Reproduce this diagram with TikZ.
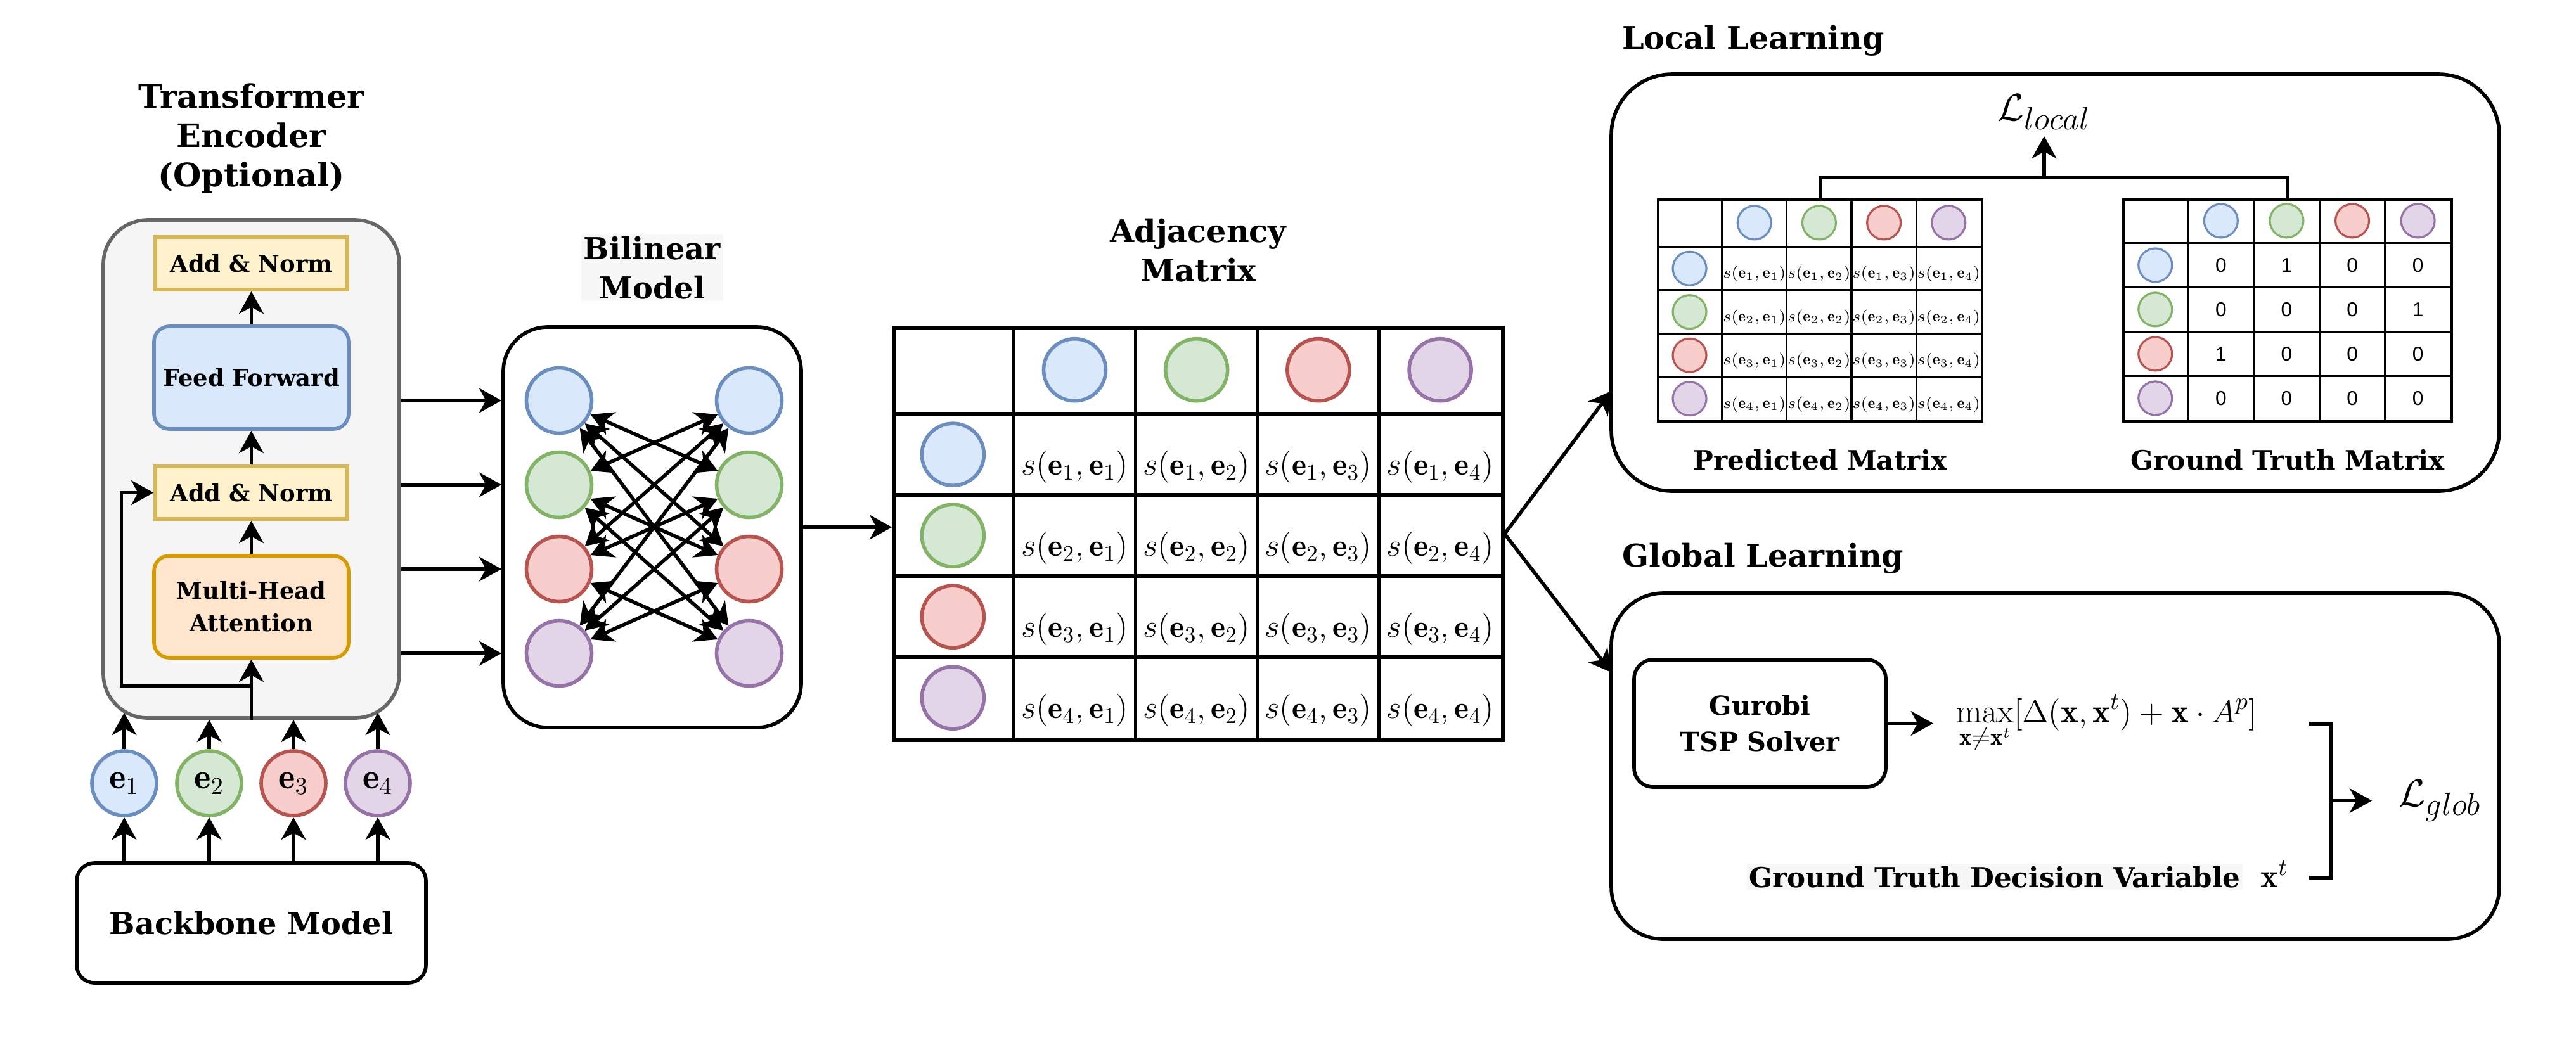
\documentclass[tikz,border=0pt]{standalone}
\usepackage{amsmath,amssymb}
\usepackage{fontspec}
\newfontfamily\digitfont{Liberation Sans}
\newfontfamily\labelfont{DejaVu Serif}
\usetikzlibrary{arrows.meta,calc,positioning}

\definecolor{blueF}{HTML}{DAE8FC}\definecolor{blueD}{HTML}{6C8EBF}
\definecolor{greenF}{HTML}{D5E8D4}\definecolor{greenD}{HTML}{82B366}
\definecolor{redF}{HTML}{F8CECC}\definecolor{redD}{HTML}{B85450}
\definecolor{purpF}{HTML}{E1D5E7}\definecolor{purpD}{HTML}{9673A6}
\definecolor{yelF}{HTML}{FFF2CC}\definecolor{yelD}{HTML}{D6B656}
\definecolor{orgF}{HTML}{FFE6CC}\definecolor{orgD}{HTML}{D79B00}
\definecolor{grayF}{HTML}{F5F5F5}\definecolor{grayD}{HTML}{666666}

\begin{document}
\begin{tikzpicture}[>={Stealth[length=10pt,width=11pt,inset=3pt]}, line width=1.6pt,
    title/.style={font=\labelfont\bfseries\fontsize{#1}{17.6}\selectfont, align=center, inner sep=1pt},
    title/.default=14,
    block/.style={draw, align=center, font=\labelfont\bfseries\fontsize{10.5}{14.5}\selectfont},
    label/.style={font=\labelfont\bfseries\fontsize{#1}{16}\selectfont},
    ball/.style={circle, inner sep=0pt, fill=#1F, draw=#1D},
    sball/.style={circle, inner sep=0pt, line width=0.9pt, minimum size=0.53cm, fill=#1F, draw=#1D},
    thin grid/.style={line width=0.9pt}]
    \useasboundingbox (0,0) rectangle (40.64,-16.56);

    % encoder
    \node (Enc) [draw=grayD, fill=grayF, rounded corners=0.7cm, minimum width=4.67cm, minimum height=7.86cm] at (3.965,-7.40) {};
    \node (EncT) [title=14.5, above=0.33cm of Enc] {Transformer\\Encoder\\(Optional)};
    \node (AN2) [block, draw=yelD, fill=yelF, minimum width=3.03cm, minimum height=0.83cm] at (3.965,-4.155) {Add \& Norm};
    \node (FF) [block, rounded corners=0.24cm, draw=blueD, fill=blueF, minimum width=3.07cm, minimum height=1.62cm] at (3.965,-5.96) {Feed Forward};
    \node (AN1) [block, draw=yelD, fill=yelF, minimum width=3.03cm, minimum height=0.83cm] at (3.965,-7.775) {Add \& Norm};
    \node (MHA) [block, rounded corners=0.24cm, draw=orgD, fill=orgF, minimum width=3.07cm, minimum height=1.61cm] at (3.965,-9.575) {Multi-Head\\Attention};

    \draw[->] (MHA) -- (AN1);
    \draw[->] (AN1) -- (FF);
    \draw[->] (FF) -- (AN2);
    \draw[->] (Enc.south) -- (MHA);
    \coordinate (Res) at (3.965,-10.82);
    \draw[->] (Res) -- ++(-2.05,0) |- (AN1);

    % embeddings and backbone
    \foreach \i/\x/\col in {1/1.96/blue, 2/3.30/green, 3/4.63/red, 4/5.96/purp}
        \node (e\i) [ball=\col, minimum size=1.02cm, font=\fontsize{16}{18}\selectfont] at (\x,-12.36) {$\mathbf{e}_\i$};
    \node (BB) [draw, rounded corners=0.28cm, minimum width=5.51cm, minimum height=1.89cm, label=13.6] at (3.965,-14.565) {Backbone Model};
    \foreach \i/\s in {1/-0.11, 2/0, 3/0, 4/-0.11} {
        \draw[->] (e\i |- BB.north) -- (e\i);
        \draw[->, shorten >=\s cm] (e\i) -- (e\i |- Enc.south);
    }

    % bilinear model
    \node (Bil) [draw, rounded corners=0.7cm, minimum width=4.70cm, minimum height=6.32cm] at (10.29,-8.32) {};
    \node (BilT) [title=13.6, fill=black!3, above=0.35cm of Bil] {Bilinear\\Model};
    \foreach \i/\y/\col in {1/-6.32/blue, 2/-7.65/green, 3/-8.98/red, 4/-10.31/purp} {
        \node (L\i) [ball=\col, minimum size=1.03cm] at (8.82,\y) {};
        \node (R\i) [ball=\col, minimum size=1.03cm] at (11.82,\y) {};
        \draw[->] (Enc.east |- L\i) -- (Bil.west |- L\i);
    }
    \foreach \i in {1,...,4}
        \foreach \j in {1,...,4} {
            \ifnum\i=\j\relax\else\draw[<->] (L\i) -- (R\j);\fi
        }

    % adjacency matrix
    \node (Adj) [draw, inner sep=0pt, minimum width=9.61cm, minimum height=6.51cm] at (18.905,-8.425) {};
    \node (AdjT) [title, above=0.63cm of Adj] {Adjacency\\Matrix};
    \foreach \k in {1,...,4}
        \draw ($(Adj.north west)+(1.922*\k,0)$) -- ($(Adj.south west)+(1.922*\k,0)$);
    \foreach \k in {0,...,3}
        \draw ($(Adj.north west)+(0,-1.39-1.28*\k)$) -- ($(Adj.north east)+(0,-1.39-1.28*\k)$);
    \foreach \i/\col in {1/blue, 2/green, 3/red, 4/purp} {
        \node (AH\i) [ball=\col, minimum size=0.98cm] at ($(Adj.north west)+(1.922*\i+0.961,-0.695)$) {};
        \node (AR\i) [ball=\col, minimum size=0.98cm] at ($(Adj.north west)+(0.961,-1.39-1.28*\i+0.64)$) {};
    }
    \foreach \i in {1,...,4}
        \foreach \j in {1,...,4}
            \node (A\i\j) [font=\fontsize{14}{16}\selectfont] at ($(Adj.north west)+(1.922*\j+0.961,-1.39-1.28*\i+0.44)$) {$s(\mathbf{e}_\i,\mathbf{e}_\j)$};

    \draw[->] (Bil.east) -- (Bil.east -| Adj.west);

    % local learning
    \node (Loc) [draw, rounded corners=0.96cm, minimum width=14.01cm, minimum height=6.58cm] at (32.425,-4.46) {};
    \node (LocT) [title, anchor=base west] at (25.53,-0.77) {Local Learning};

    \node (Pred) [draw, thin grid, inner sep=0pt, minimum width=5.11cm, minimum height=3.50cm] at (28.715,-4.90) {};
    \foreach \k in {1,...,4}
        \draw[thin grid] ($(Pred.north west)+(1.022*\k,0)$) -- ($(Pred.south west)+(1.022*\k,0)$);
    \foreach \k in {0,...,3}
        \draw[thin grid] ($(Pred.north west)+(0,-0.76-0.685*\k)$) -- ($(Pred.north east)+(0,-0.76-0.685*\k)$);
    \foreach \i/\col in {1/blue, 2/green, 3/red, 4/purp} {
        \node (PH\i) [sball=\col] at ($(Pred.north west)+(1.022*\i+0.511,-0.38)$) {};
        \node (PR\i) [sball=\col] at ($(Pred.north west)+(0.511,-0.76-0.685*\i+0.3425)$) {};
    }
    \foreach \i in {1,...,4}
        \foreach \j in {1,...,4}
            \node (P\i\j) [font=\fontsize{7.2}{8}\selectfont] at ($(Pred.north west)+(1.022*\j+0.511,-0.76-0.685*\i+0.2525)$) {$s(\mathbf{e}_\i,\mathbf{e}_\j)$};

    \node (GT) [draw, thin grid, inner sep=0pt, minimum width=5.18cm, minimum height=3.50cm] at (36.09,-4.90) {};
    \foreach \k in {1,...,4}
        \draw[thin grid] ($(GT.north west)+(1.036*\k,0)$) -- ($(GT.south west)+(1.036*\k,0)$);
    \foreach \k in {1,...,4}
        \draw[thin grid] ($(GT.north west)+(0,-0.70*\k)$) -- ($(GT.north east)+(0,-0.70*\k)$);
    \foreach \i/\col in {1/blue, 2/green, 3/red, 4/purp} {
        \node (GH\i) [sball=\col] at ($(GT.north west)+(1.036*\i+0.518,-0.35)$) {};
        \node (GR\i) [sball=\col] at ($(GT.north west)+(0.518,-0.70*\i-0.35)$) {};
    }
    \foreach \i/\row in {1/{0,1,0,0}, 2/{0,0,0,1}, 3/{1,0,0,0}, 4/{0,0,0,0}}
        \foreach \v [count=\j] in \row
            \node (G\i\j) [font=\digitfont\fontsize{9}{10}\selectfont] at ($(GT.north west)+(1.036*\j+0.518,-0.70*\i-0.35)$) {\v};

    \coordinate (Bar) at ($(Pred.north)+(0,0.33)$);
    \draw (Pred.north) -- (Bar) -| (GT.north);
    \node (Lloc) [font=\fontsize{19}{22}\selectfont, inner sep=2pt] at (32.25,-1.77) {$\mathcal{L}_{local}$};
    \draw[->] (Lloc |- Bar) -- (Lloc);

    \node (PredL) [label=12, below=0.28cm of Pred] {Predicted Matrix};
    \node (GTL) [label=12, below=0.28cm of GT] {Ground Truth Matrix};

    % split towards both learning parts
    \coordinate (LocIn) at (25.42,-6.17);
    \coordinate (GloIn) at (25.42,-10.61);
    \draw[->] (Adj.east) -- (LocIn);
    \draw[->] (Adj.east) -- (GloIn);

    % global learning
    \node (Glo) [draw, rounded corners=0.82cm, minimum width=14.01cm, minimum height=5.46cm] at (32.425,-12.09) {};
    \node (GloT) [title, anchor=base west] at (25.53,-8.94) {Global Learning};
    \node (Gur) [draw, rounded corners=0.3cm, minimum width=3.97cm, minimum height=2.01cm, align=center, label=11.8] at (27.765,-11.415) {Gurobi\\TSP Solver};
    \draw[->] (Gur.east) -- ++(0.72,0) coordinate (GurOut);
    \node (Max) [anchor=base west, font=\fontsize{15}{18}\selectfont] at (30.72,-11.40) {$\displaystyle\max_{\mathbf{x}\neq\mathbf{x}^t}[\Delta(\mathbf{x},\mathbf{x}^t)+\mathbf{x}\cdot A^p]$};

    \node (GTDV) [fill=black!3, inner sep=1pt, anchor=base, label=12.4] at (31.47,-14.00) {Ground Truth Decision Variable};
    \node (Xt) [anchor=base west, font=\fontsize{15}{18}\selectfont] at (35.52,-14.00) {$\mathbf{x}^t$};

    \coordinate (BrT) at (36.43,-11.42);
    \coordinate (BrB) at (36.43,-13.85);
    \draw (BrT) -- ++(0.34,0) |- (BrB);
    \coordinate (BrM) at ($(BrT)!0.5!(BrB)+(0.34,0)$);
    \draw[->] (BrM) -- ++(0.65,0) coordinate (GloOut);
    \node (Lglob) [font=\fontsize{19}{22}\selectfont, inner sep=2pt, right=0.33cm of GloOut] {$\mathcal{L}_{glob}$};
\end{tikzpicture}
\end{document}
